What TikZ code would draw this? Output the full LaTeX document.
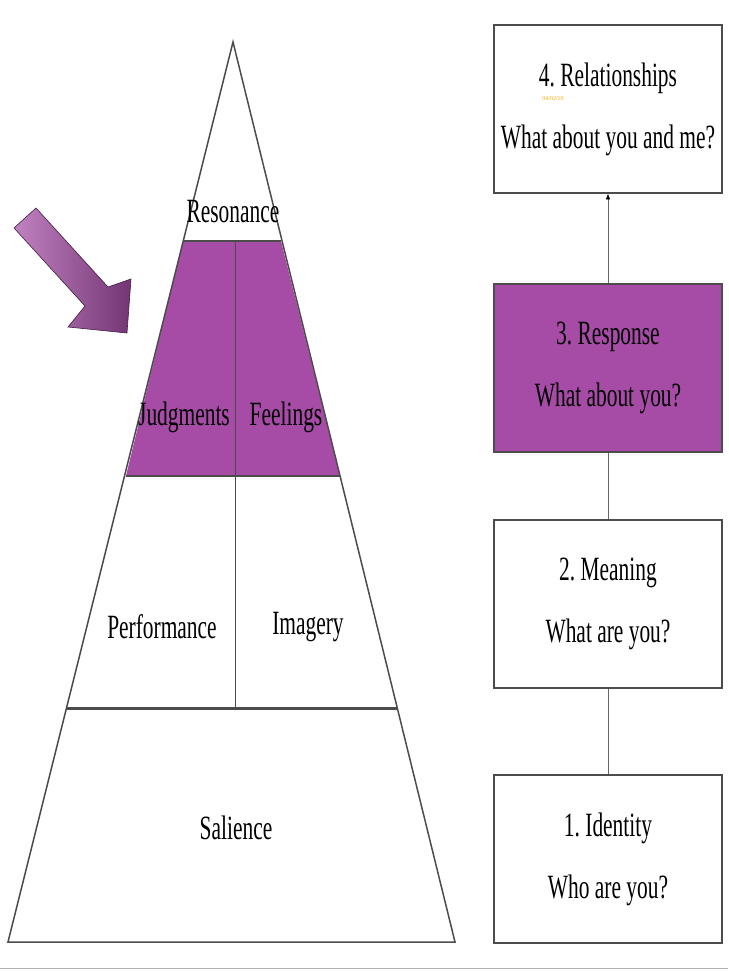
\documentclass[tikz,border=0pt]{standalone}
\usepackage{fontspec}
\setmainfont{Liberation Serif}
\usetikzlibrary{arrows.meta}
\begin{document}
\begin{tikzpicture}[x=1pt,y=-1pt,
  lbl/.style={font=\fontsize{34}{62}\selectfont, xscale=0.63, align=center, inner sep=0pt},
  sbox/.style={draw=black!70, line width=1.2pt, minimum width=228pt, minimum height=168pt},
  conn/.style={draw=black!60, line width=0.6pt}]
\definecolor{pur}{HTML}{A64CA6}
\useasboundingbox (0,0) rectangle (728,971);
% purple band of pyramid
\fill[pur] (183,241) -- (281,241) -- (340,476) -- (126,476) -- cycle;
% pyramid outline
\coordinate (apex) at (233,42);
\coordinate (bl) at (8,942);
\coordinate (br) at (455,942);
\draw[black!70, line width=1.5pt] (apex) -- (br) -- (bl) -- cycle;
\draw[black!70, line width=2pt] (183,241) -- (281,241);
\draw[black!70, line width=2pt] (126,476) -- (340,476);
\draw[black!70, line width=3pt] (66,708) -- (398,708);
\draw[black!70, line width=0.8pt] (235,241) -- (235,708);
\node[lbl] (res) at (233,212) {Resonance};
\node[lbl] (jud) at (184,417) {Judgments};
\node[lbl] (fee) at (286,417) {Feelings};
\node[lbl] (per) at (162,627) {Performance};
\node[lbl] (ima) at (308,627) {Imagery};
\node[lbl] (sal) at (236,828) {Salience};
% big arrow
\shade[left color=pur!70!white, right color=pur!70!black, draw=pur!40!black, line width=0.6pt]
  (14,228) -- (36,208) -- (108,287) -- (131,279) -- (127,333) -- (68,327) -- (85,306) -- cycle;
% right boxes
\node[sbox] (b4) at (608,109) {};
\node[sbox, fill=pur] (b3) at (608,368) {};
\node[sbox] (b2) at (608,604) {};
\node[sbox] (b1) at (608,859) {};
\node[lbl] at (b4) {4.\ Relationships\\What about you and me?};
\node[lbl] at (b3) {3.\ Response\\What about you?};
\node[lbl] at (b2) {2.\ Meaning\\What are you?};
\node[lbl] at (b1) {1.\ Identity\\Who are you?};
\node[font=\fontsize{6}{7}\selectfont, text=orange!70!yellow] (date) at (553,99) {04/02/10};
\draw[conn] (b1.north) -- (b2.south);
\draw[conn] (b2.north) -- (b3.south);
\draw[conn, -{Latex[length=20pt,width=12pt]}, arrows={-{Latex[black]}}] (b3.north) -- (b4.south);
\draw[black!30, line width=1pt] (0,968) -- (728,968);
\end{tikzpicture}
\end{document}
